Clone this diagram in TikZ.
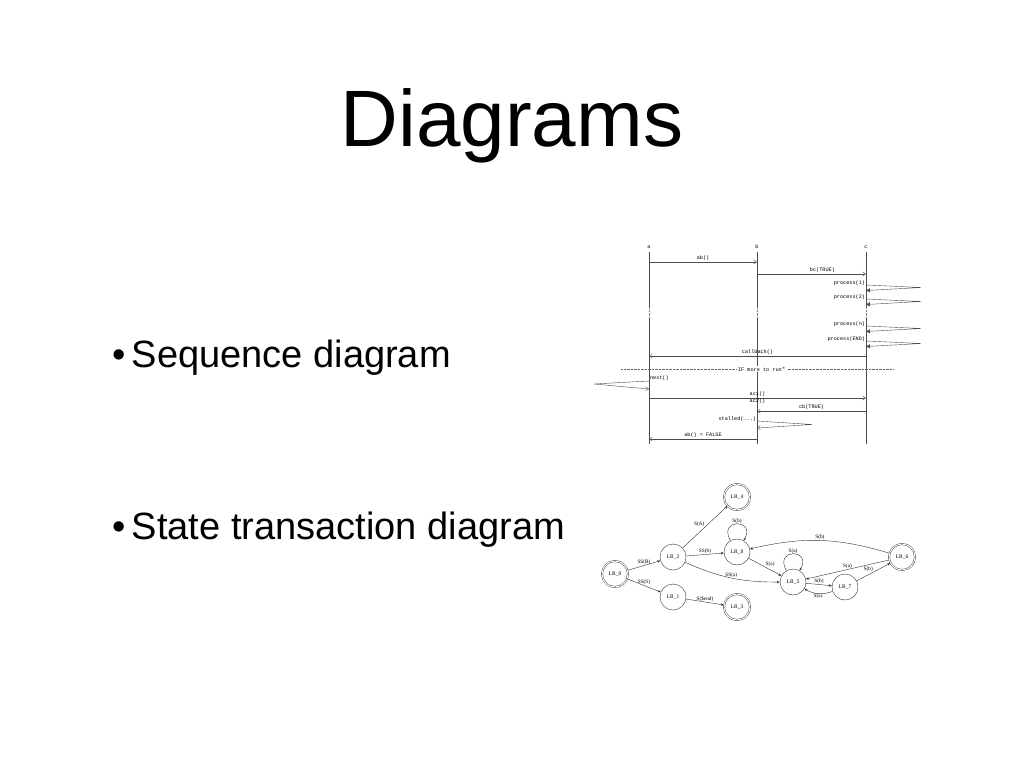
\documentclass[tikz,border=0pt]{standalone}
\usepackage{fontspec}
\setmainfont{Liberation Sans}
\newfontfamily\mono{Liberation Mono}
\newfontfamily\serifs{Liberation Serif}
\usetikzlibrary{arrows.meta}
\begin{document}
\begin{tikzpicture}[x=1pt,y=-1pt,
  msg/.style={draw=black!70,line width=0.4pt,-{Straight Barb[length=3pt,width=4pt]}},
  ml/.style={font=\mono\fontsize{5.2}{6}\selectfont,inner sep=0.8pt},
  self/.style={draw=black!70,line width=0.4pt,-{Triangle[length=4pt,width=4pt]}},
  st/.style={circle,draw=black!80,line width=0.4pt,minimum size=26pt,inner sep=0pt,font=\serifs\fontsize{5.5}{6}\selectfont},
  acc/.style={st,double,double distance=1pt},
  tr/.style={draw=black!80,line width=0.4pt,-{Stealth[length=3pt,width=2.5pt]}},
  tl/.style={font=\serifs\fontsize{5.3}{6}\selectfont,inner sep=0.5pt}]
\useasboundingbox (0,0) rectangle (1024,768);
\fill[white] (0,0) rectangle (1024,768);
\node (title) at (512,126) {\fontsize{80}{90}\selectfont Diagrams};
\node[anchor=west,font=\fontsize{38}{42}\selectfont,inner sep=0pt] (b1) at (112,358) {\textbullet\,Sequence diagram};
\node[anchor=west,font=\fontsize{38}{42}\selectfont,inner sep=0pt] (b2) at (112,530) {\textbullet\,State transaction diagram};
% sequence diagram
\foreach \n/\x in {a/649,b/757,c/866}{
  \node[ml] (h\n) at (\x,247) {\n};
  \coordinate (t\n) at (\x,252); \coordinate (m\n) at (\x,307);
  \coordinate (n\n) at (\x,318); \coordinate (e\n) at (\x,444);
  \draw[black!70,line width=0.4pt] (t\n) -- (m\n) (n\n) -- (e\n);
  \draw[black!50,line width=0.4pt,densely dotted] (m\n) -- (n\n);
}
\coordinate (a1) at (649,262); \coordinate (b1x) at (757,262);
\draw[msg] (a1) -- node[ml,above] {ab()} (b1x);
\coordinate (b2x) at (757,274); \coordinate (c2) at (866,274);
\draw[msg] (b2x) -- node[ml,above,pos=0.6] {bc(TRUE)} (c2);
\foreach \y/\t in {285/process(1),299/process(2),326/process(n),341/process(END)}{
  \coordinate (s1) at (866,\y); \coordinate (s2) at (921,\y+2.5); \coordinate (s3) at (866,\y+5.5);
  \draw[self] (s1) -- (s2) -- (s3);
  \node[ml,anchor=south east] at (866,\y+1.5) {\t};
}
\coordinate (c3) at (866,356); \coordinate (a3) at (649,356);
\draw[msg] (c3) -- node[ml,above] {callback()} (a3);
\coordinate (d1) at (621,369); \coordinate (d2) at (894,369);
\draw[black!60,line width=0.4pt,densely dotted] (d1) -- (d2);
\node[ml,fill=white] (ifm) at (762,369) {IF more to run$^{*}$};
\coordinate (n1) at (649,381); \coordinate (n2) at (594,384); \coordinate (n3) at (649,389);
\draw[msg] (n1) -- (n2) -- (n3);
\node[ml,anchor=south west] at (649,382) {next()};
\coordinate (a4) at (649,398); \coordinate (c4) at (866,398);
\draw[msg] (a4) -- node[ml,above] {ac1()} node[ml,below] {ac2()} (c4);
\coordinate (c5) at (866,411); \coordinate (b5) at (757,411);
\draw[msg] (c5) -- node[ml,above] {cb(TRUE)} (b5);
\coordinate (q1) at (757,421); \coordinate (q2) at (812,424.5); \coordinate (q3) at (757,428);
\draw[msg] (q1) -- (q2) -- (q3);
\node[ml,anchor=south east] at (757,423) {stalled(...)};
\coordinate (b6) at (757,439); \coordinate (a6) at (649,439);
\draw[msg] (b6) -- node[ml,above] {ab() = FALSE} (a6);
% state diagram
\node[acc] (L0) at (615,574) {LR\_0};
\node[st] (L2) at (673,557) {LR\_2};
\node[st] (L1) at (673,597) {LR\_1};
\node[acc] (L4) at (737,497) {LR\_4};
\node[st] (L8) at (737,552) {LR\_8};
\node[acc] (L3) at (737,607) {LR\_3};
\node[st] (L5) at (793,582) {LR\_5};
\node[st] (L7) at (845,587) {LR\_7};
\node[acc] (L6) at (902,557) {LR\_6};
\draw[tr] (L0) -- node[tl,above] {SS(B)} (L2);
\draw[tr] (L0) -- node[tl,above] {SS(S)} (L1);
\draw[tr] (L2) -- node[tl,above left] {S(A)} (L4);
\draw[tr] (L2) -- node[tl,above] {SS(b)} (L8);
\draw[tr] (L2) to[bend right=12] node[tl,above] {SS(a)} (L5);
\draw[tr] (L1) -- node[tl,above] {S(\$end)} (L3);
\draw[tr] (L8) to[out=120,in=60,looseness=5] node[tl,above] {S(b)} (L8);
\draw[tr] (L8) -- node[tl,above right] {S(a)} (L5);
\draw[tr] (L5) to[out=120,in=60,looseness=5] node[tl,above] {S(a)} (L5);
\draw[tr] (L5) -- node[tl,above] {S(b)} (L7);
\draw[tr] (L7) to[bend left=25] node[tl,below] {S(a)} (L5);
\draw[tr] (L7) -- node[tl,above left] {S(b)} (L6);
\draw[tr] (L6) -- node[tl,above] {S(a)} (L5);
\draw[tr] (L6) to[bend right=15] node[tl,above] {S(b)} (L8);
\end{tikzpicture}
\end{document}
